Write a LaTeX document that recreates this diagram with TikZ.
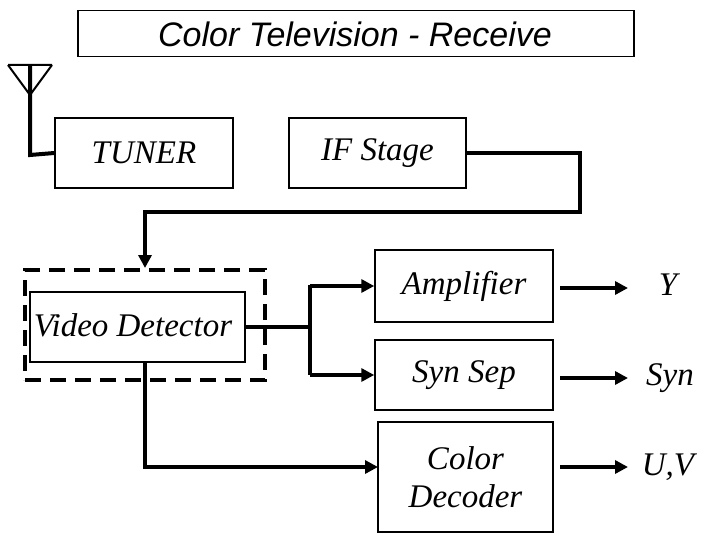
\documentclass[tikz,border=0pt]{standalone}
\usepackage{fontspec}
\setmainfont{Liberation Serif}
\newfontfamily\sansf{Liberation Sans}
\usetikzlibrary{arrows.meta}
\begin{document}
\begin{tikzpicture}[x=1pt,y=-1pt,
  box/.style={draw,line width=1.5pt,minimum width=#1,inner sep=0pt,font=\itshape\fontsize{33}{38}\selectfont},
  wire/.style={line width=4pt},
  arr/.style={line width=4pt,-{Triangle[length=13pt,width=13pt]}},
  lab/.style={font=\itshape\fontsize{33}{38}\selectfont}]
\useasboundingbox (0,0) rectangle (720,540);
\node[box=556,minimum height=46,anchor=north west] (title) at (77,10) {};
\node[font=\sansf\itshape\fontsize{34}{38}\selectfont] (tt) at (355,34) {Color Television - Receive};
\node[box=178,minimum height=70] (tuner) at (144,153) {TUNER};
\node[box=177,minimum height=70] (if) at (377.5,153) {IF Stage};
\node[draw,line width=4pt,dash pattern=on 16pt off 9pt,minimum width=240,minimum height=110] (dash) at (145,325) {};
\node[box=215,minimum height=70,fill=white] (vd) at (137.5,327) {};
\node[lab] (vdt) at (133,325) {Video Detector};
\node[box=178,minimum height=72] (amp) at (464,286) {Amplifier};
\node[box=178,minimum height=70] (syn) at (464,375) {Syn Sep};
\node[box=175,minimum height=110,align=center] (cd) at (465.5,477) {Color\\Decoder};
\node[lab] (y) at (668,285) {Y};
\node[lab] (s) at (670,378) {Syn};
\node[lab] (uv) at (668,467) {U,V};
\coordinate (a0) at (30,65);
\coordinate (cdin) at (378,467);
\draw[line width=2pt] (8,65) -- (52,65) (8,65) -- (30,95) -- (52,65);
\draw[wire] (a0) -- (30,155) -- (tuner.west);
\draw[wire] (if.east) -- (580,153) -- (580,212) -- (145,212) -- (145,260);
\draw[arr] (145,255) -- (dash.north);
\draw[wire] (vd.east) -- (310,327);
\draw[wire] (310,285) -- (310,375);
\draw[arr] (310,286) -- (amp.west);
\draw[arr] (310,375) -- (syn.west);
\draw[wire] (145,362) -- (145,467) -- (330,467);
\draw[arr] (320,467) -- (cdin);
\draw[arr] (560,288) -- (628,288);
\draw[arr] (560,378) -- (628,378);
\draw[arr] (560,467) -- (628,467);
\end{tikzpicture}
\end{document}
